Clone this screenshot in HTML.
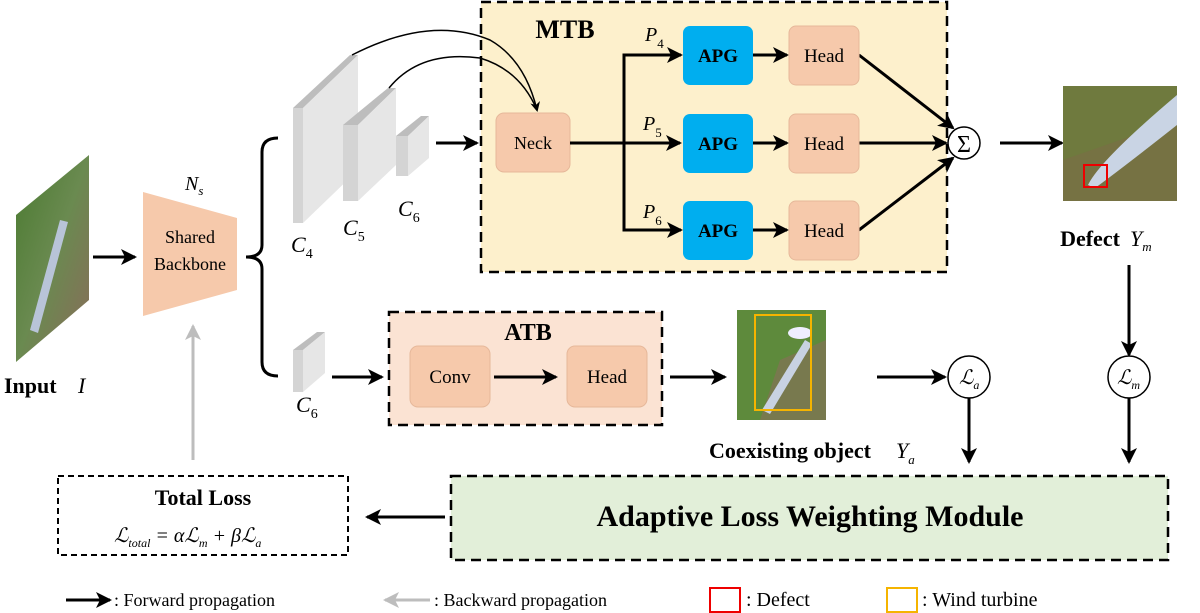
<!DOCTYPE html>
<html><head><meta charset="utf-8"><style>
html,body{margin:0;padding:0;background:#fff}
svg{display:block}
text{font-family:"Liberation Serif",serif;fill:#000}
</style></head><body>
<svg width="1200" height="613" viewBox="0 0 1200 613" xmlns="http://www.w3.org/2000/svg">
<defs>
<marker id="a" markerWidth="10" markerHeight="10" refX="8" refY="5" orient="auto" markerUnits="userSpaceOnUse"><path d="M0,0 L10,5 L0,10 L3,5 Z" fill="#000"/></marker>
<marker id="ab" markerWidth="16" markerHeight="16" refX="14" refY="8" orient="auto" markerUnits="userSpaceOnUse"><path d="M0,0 L16,8 L0,16 L4,8 Z" fill="#000"/></marker>
<marker id="ag" markerWidth="16" markerHeight="16" refX="14" refY="8" orient="auto" markerUnits="userSpaceOnUse"><path d="M0,0 L16,8 L0,16 L4,8 Z" fill="#bdbdbd"/></marker>
<linearGradient id="g1" x1="0" y1="0" x2="1" y2="1"><stop offset="0" stop-color="#4a7a30"/><stop offset="0.5" stop-color="#6a8a50"/><stop offset="1" stop-color="#8a6a5a"/></linearGradient>
</defs>

<!-- MTB -->
<rect x="481" y="2" width="466" height="270" fill="#fdf0cc" stroke="#000" stroke-width="2.5" stroke-dasharray="10,6"/>
<text x="565" y="38" font-size="26" font-weight="bold" text-anchor="middle">MTB</text>
<rect x="496" y="113" width="74" height="59" rx="8" fill="#f6c9ab" stroke="#e6b89a"/>
<text x="533" y="149" font-size="18" text-anchor="middle">Neck</text>
<g stroke="#000" stroke-width="3" fill="none">
<line x1="570" y1="143" x2="680" y2="143" marker-end="url(#ab)"/>
<polyline points="680,55 624,55 624,230 680,230" />
<line x1="650" y1="55" x2="681" y2="55" marker-end="url(#ab)"/>
<line x1="650" y1="230" x2="681" y2="230" marker-end="url(#ab)"/>
<line x1="753" y1="55" x2="787" y2="55" marker-end="url(#ab)"/>
<line x1="753" y1="143" x2="787" y2="143" marker-end="url(#ab)"/>
<line x1="753" y1="230" x2="787" y2="230" marker-end="url(#ab)"/>
<line x1="859" y1="55" x2="953" y2="128" marker-end="url(#ab)"/>
<line x1="859" y1="143" x2="946" y2="143" marker-end="url(#ab)"/>
<line x1="859" y1="230" x2="953" y2="158" marker-end="url(#ab)"/>
<line x1="1000" y1="143" x2="1062" y2="143" marker-end="url(#ab)"/>
</g>
<text x="645" y="41" font-size="20" font-style="italic">P<tspan font-size="13" font-style="normal" dy="7">4</tspan></text>
<text x="643" y="130" font-size="20" font-style="italic">P<tspan font-size="13" font-style="normal" dy="7">5</tspan></text>
<text x="643" y="218" font-size="20" font-style="italic">P<tspan font-size="13" font-style="normal" dy="7">6</tspan></text>
<g fill="#00aeef">
<rect x="683" y="26" width="70" height="59" rx="7"/>
<rect x="683" y="114" width="70" height="59" rx="7"/>
<rect x="683" y="201" width="70" height="59" rx="7"/>
</g>
<g font-size="19" font-weight="bold" text-anchor="middle">
<text x="718" y="62">APG</text><text x="718" y="150">APG</text><text x="718" y="237">APG</text>
</g>
<g fill="#f6c9ab" stroke="#e6b89a">
<rect x="789" y="26" width="70" height="59" rx="7"/>
<rect x="789" y="114" width="70" height="59" rx="7"/>
<rect x="789" y="201" width="70" height="59" rx="7"/>
</g>
<g font-size="19" text-anchor="middle">
<text x="824" y="62">Head</text><text x="824" y="150">Head</text><text x="824" y="237">Head</text>
</g>
<circle cx="964" cy="143" r="16" fill="#fff" stroke="#000" stroke-width="1.5"/>
<text x="964" y="152" font-size="24" text-anchor="middle">Σ</text>

<!-- defect image -->
<rect x="1063" y="86" width="114" height="115" fill="#6f7a3e"/>
<path d="M1063,160 L1177,120 L1177,201 L1063,201 Z" fill="#7d6a48" opacity="0.5"/>
<path d="M1088,185 Q1100,160 1177,95 L1177,125 Q1120,170 1095,188 Z" fill="#c9d4e4"/>
<rect x="1084" y="165" width="23" height="22" fill="none" stroke="#e00" stroke-width="2"/>
<text x="1090" y="246" font-size="22" font-weight="bold" text-anchor="middle">Defect</text>
<text x="1130" y="246" font-size="22" font-style="italic">Y<tspan font-size="13" dy="5">m</tspan></text>

<!-- input -->
<path d="M16,215 L89,155 L89,300 L16,362 Z" fill="url(#g1)"/>
<path d="M30,330 L60,220 L68,222 L38,333 Z" fill="#b8c4d8"/>
<text x="4" y="393" font-size="22" font-weight="bold">Input</text>
<text x="78" y="393" font-size="22" font-style="italic">I</text>
<line x1="93" y1="257" x2="135" y2="257" stroke="#000" stroke-width="3" marker-end="url(#ab)"/>

<!-- backbone -->
<path d="M143,192 L237,218 L237,290 L143,316 Z" fill="#f6c9ab"/>
<text x="190" y="243" font-size="18" text-anchor="middle">Shared</text>
<text x="190" y="270" font-size="18" text-anchor="middle">Backbone</text>
<text x="185" y="190" font-size="20" font-style="italic">N<tspan font-size="13" dy="5">s</tspan></text>
<path d="M278,138 Q262,138 262,152 L262,245 Q262,257 246,257 Q262,257 262,269 L262,362 Q262,376 278,376" fill="none" stroke="#000" stroke-width="3"/>

<!-- C blocks -->
<path d="M293,108 L350,55 L358,55 L303,108 Z" fill="#bdbdbd"/>
<rect x="293" y="108" width="10" height="115" fill="#d4d4d4"/>
<path d="M303,108 L358,55 L358,170 L303,223 Z" fill="#e6e6e6"/>
<path d="M343,125 L388,88 L396,88 L358,125 Z" fill="#bdbdbd"/>
<rect x="343" y="125" width="15" height="76" fill="#d4d4d4"/>
<path d="M358,125 L396,88 L396,165 L358,201 Z" fill="#e6e6e6"/>
<path d="M396,136 L421,116 L429,116 L408,136 Z" fill="#bdbdbd"/>
<rect x="396" y="136" width="12" height="40" fill="#d4d4d4"/>
<path d="M408,136 L429,116 L429,158 L408,176 Z" fill="#e6e6e6"/>

<!-- lower C6 -->
<path d="M293,350 L317,332 L325,332 L303,350 Z" fill="#bdbdbd"/>
<rect x="293" y="350" width="10" height="42" fill="#d4d4d4"/>
<path d="M303,350 L325,332 L325,373 L303,392 Z" fill="#e6e6e6"/>

<g font-size="22" font-style="italic">
<text x="291" y="252">C<tspan font-size="14" font-style="normal" dy="6">4</tspan></text>
<text x="343" y="235">C<tspan font-size="14" font-style="normal" dy="6">5</tspan></text>
<text x="398" y="216">C<tspan font-size="14" font-style="normal" dy="6">6</tspan></text>
<text x="296" y="412">C<tspan font-size="14" font-style="normal" dy="6">6</tspan></text>
</g>
<line x1="436" y1="143" x2="477" y2="143" stroke="#000" stroke-width="3" marker-end="url(#ab)"/>
<path d="M352,55 Q430,15 490,40 Q525,60 537,110" fill="none" stroke="#000" stroke-width="1.5" marker-end="url(#a)"/>
<path d="M389,88 Q420,50 480,58 Q520,70 537,110" fill="none" stroke="#000" stroke-width="1.5"/>
<line x1="332" y1="377" x2="382" y2="377" stroke="#000" stroke-width="3" marker-end="url(#ab)"/>

<!-- ATB -->
<rect x="389" y="312" width="273" height="113" fill="#fbe3d3" stroke="#000" stroke-width="2.5" stroke-dasharray="10,6"/>
<text x="528" y="340" font-size="24" font-weight="bold" text-anchor="middle">ATB</text>
<rect x="410" y="346" width="80" height="61" rx="8" fill="#f6c9ab" stroke="#e6b89a"/>
<rect x="567" y="346" width="80" height="61" rx="8" fill="#f6c9ab" stroke="#e6b89a"/>
<text x="450" y="383" font-size="19" text-anchor="middle">Conv</text>
<text x="607" y="383" font-size="19" text-anchor="middle">Head</text>
<g stroke="#000" stroke-width="3">
<line x1="494" y1="377" x2="556" y2="377" marker-end="url(#ab)"/>
<line x1="670" y1="377" x2="725" y2="377" marker-end="url(#ab)"/>
<line x1="877" y1="377" x2="945" y2="377" marker-end="url(#ab)"/>
<line x1="1129" y1="265" x2="1129" y2="355" marker-end="url(#ab)"/>
<line x1="969" y1="398" x2="969" y2="462" marker-end="url(#ab)"/>
<line x1="1129" y1="398" x2="1129" y2="462" marker-end="url(#ab)"/>
<line x1="445" y1="517" x2="367" y2="517" marker-end="url(#ab)"/>
</g>
<!-- coexisting image -->
<rect x="737" y="310" width="89" height="110" fill="#5e8a3c"/>
<path d="M780,360 L826,340 L826,420 L760,420 Z" fill="#8a6e5a" opacity="0.6"/>
<path d="M762,410 L805,340 L812,344 L770,414 Z" fill="#c8d2e2"/>
<ellipse cx="800" cy="333" rx="12" ry="6" fill="#eef"/>
<rect x="755" y="315" width="56" height="95" fill="none" stroke="#f5b400" stroke-width="2"/>
<text x="790" y="458" font-size="22" font-weight="bold" text-anchor="middle">Coexisting object</text>
<text x="896" y="458" font-size="22" font-style="italic">Y<tspan font-size="13" dy="6">a</tspan></text>
<!-- loss circles -->
<circle cx="969" cy="377" r="21" fill="#fff" stroke="#000" stroke-width="1.5"/>
<circle cx="1129" cy="377" r="21" fill="#fff" stroke="#000" stroke-width="1.5"/>
<text x="959" y="384" font-size="20" font-style="italic">ℒ<tspan font-size="12" dy="5">a</tspan></text>
<text x="1117" y="384" font-size="20" font-style="italic">ℒ<tspan font-size="12" dy="5">m</tspan></text>

<!-- ALWM -->
<rect x="451" y="476" width="717" height="84" fill="#e2efd9" stroke="#000" stroke-width="2.5" stroke-dasharray="10,6"/>
<text x="810" y="526" font-size="30" font-weight="bold" text-anchor="middle">Adaptive Loss Weighting Module</text>
<!-- Total loss -->
<rect x="58" y="476" width="290" height="79" fill="#fff" stroke="#000" stroke-width="2" stroke-dasharray="6,4"/>
<text x="203" y="505" font-size="22" font-weight="bold" text-anchor="middle">Total  Loss</text>
<text x="114" y="542" font-size="20" font-style="italic">ℒ<tspan font-size="12" dy="5">total</tspan><tspan dy="-5"> = αℒ</tspan><tspan font-size="12" dy="5">m</tspan><tspan dy="-5"> + βℒ</tspan><tspan font-size="12" dy="5">a</tspan></text>
<line x1="193" y1="460" x2="193" y2="326" stroke="#bdbdbd" stroke-width="3" marker-end="url(#ag)"/>

<!-- legend -->
<line x1="66" y1="600" x2="110" y2="600" stroke="#000" stroke-width="3" marker-end="url(#ab)"/>
<text x="114" y="606" font-size="18">: Forward propagation</text>
<line x1="430" y1="600" x2="385" y2="600" stroke="#bdbdbd" stroke-width="3" marker-end="url(#ag)"/>
<text x="434" y="606" font-size="18">: Backward propagation</text>
<rect x="710" y="588" width="30" height="24" fill="none" stroke="#e00" stroke-width="2"/>
<text x="746" y="606" font-size="20">: Defect</text>
<rect x="887" y="588" width="30" height="24" fill="none" stroke="#f5b400" stroke-width="2"/>
<text x="922" y="606" font-size="20">: Wind turbine</text>
</svg>
</body></html>
